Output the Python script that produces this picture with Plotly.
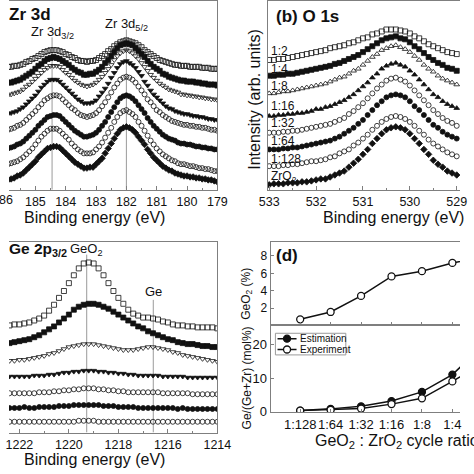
import numpy as np
import plotly.graph_objects as go

W = H = 474
FONT = "Liberation Sans, Arial, sans-serif"
INK = "#111111"
FRAME = "#7f7f7f"
GUIDE = "#9a9a9a"

ratio_labels = ["1:2", "1:4", "1:8", "1:16", "1:32", "1:64", "1:128", "ZrO<sub>2</sub>"]

# (a) Zr 3d -- intensity (arb. units), binding energy 186.0 -> 179.0 eV, 0.1 eV step
be_zr = np.round(np.arange(186.0, 178.95, -0.1), 1)
zr_1_2 = [125,125,125,126,126,127,128,130,131,133,134,136,138,140,141,142,142,142,141,140,138,137,135,134,132,131,131,130,131,131,132,134,136,138,141,143,146,148,150,151,152,151,150,149,147,145,142,140,138,136,134,132,131,130,129,128,127,127,126,126,126,125,125,125,125,124,124,124,123,123,123]
zr_1_4 = [108,109,109,110,111,112,114,116,118,120,123,126,128,131,133,134,135,134,133,131,129,127,124,122,120,119,117,117,118,118,120,122,125,129,132,136,140,144,147,148,149,148,147,144,141,138,135,131,128,125,123,121,118,117,115,114,113,112,111,111,110,110,110,109,109,108,108,107,107,107,106]
zr_1_8 = [96,96,97,98,99,100,102,105,107,110,113,116,119,122,124,126,126,126,125,122,119,117,114,111,109,107,106,105,106,107,109,112,115,119,123,127,132,136,139,141,142,141,139,136,133,129,125,121,117,114,111,108,106,104,102,101,100,99,97,97,96,96,95,95,94,94,93,93,92,92,91]
zr_1_16 = [76,77,78,79,80,82,84,87,90,93,96,100,104,107,110,112,112,112,110,107,104,101,98,95,92,90,88,88,88,89,91,95,99,103,108,114,119,124,128,130,131,129,127,124,120,116,110,106,101,97,94,91,88,85,83,82,80,79,78,77,77,76,75,75,74,74,73,72,72,71,71]
zr_1_32 = [61,61,62,63,65,66,68,71,74,77,80,84,87,91,93,95,96,96,95,92,89,86,83,81,78,76,75,74,75,76,78,81,85,89,94,99,104,108,112,114,115,114,112,109,105,101,97,92,89,85,81,79,76,74,72,70,69,68,67,66,66,65,65,64,64,63,63,62,61,61,60]
zr_1_64 = [42,42,43,44,46,47,49,52,55,58,61,65,68,71,74,75,76,76,75,72,69,66,63,60,58,56,54,54,55,56,58,61,65,69,74,79,84,89,93,95,96,95,93,90,86,82,78,73,69,65,62,59,56,54,52,51,50,48,47,47,46,46,45,44,44,43,43,42,42,41,41]
zr_1_128 = [25,26,27,28,29,31,33,36,39,42,46,50,54,57,60,62,62,62,60,57,54,51,47,44,41,39,37,37,37,38,41,44,48,53,58,63,69,74,78,80,81,79,77,74,69,65,60,55,50,46,42,39,36,34,32,30,29,27,26,26,25,24,24,23,22,22,21,21,20,19,19]
zr_zro2 = [10,10,11,12,14,15,17,20,23,26,29,33,36,39,42,43,44,44,43,40,37,34,31,28,26,24,22,22,23,23,26,29,32,37,42,47,52,57,61,63,64,63,61,58,54,50,46,41,37,33,30,27,24,22,20,19,17,16,15,14,14,13,13,12,12,11,11,10,10,9,8]

# (b) O 1s -- 533.0 -> 529.0 eV, 0.1 eV step
be_o = np.round(np.arange(533.0, 528.95, -0.1), 1)
o_1_2 = [132,132,133,133,134,135,136,137,138,139,140,141,142,144,145,146,147,149,150,152,154,155,158,159,161,163,163,163,162,161,159,156,154,151,148,146,144,142,140,139,138]
o_1_4 = [116,116,117,117,118,118,119,120,121,122,123,124,125,126,128,129,131,133,135,137,140,143,146,149,152,154,155,156,154,153,150,146,143,139,135,132,129,127,124,123,121]
o_1_8 = [98,98,99,100,100,101,102,103,104,105,106,107,108,110,112,114,115,118,121,123,127,131,135,138,142,144,146,147,145,143,140,136,132,127,123,120,116,113,111,109,107]
o_1_16 = [75,75,76,76,77,77,78,78,79,80,82,82,84,85,87,89,91,94,97,101,105,109,114,118,123,126,128,129,127,125,121,117,112,107,102,97,94,90,87,85,83]
o_1_32 = [58,58,58,59,59,60,60,61,62,63,64,65,66,67,69,71,73,77,80,84,88,93,98,103,107,111,113,114,112,110,106,101,96,91,86,81,77,73,70,68,65]
o_1_64 = [41,41,41,42,42,43,43,44,45,46,47,48,49,50,52,54,57,60,63,67,71,76,81,86,90,94,96,97,96,94,90,85,81,76,71,66,63,59,56,54,52]
o_1_128 = [24,24,24,25,25,26,26,27,28,29,29,30,31,33,34,37,39,41,45,48,52,56,61,65,69,72,74,75,74,72,69,65,60,56,51,47,44,41,38,36,34]
o_zro2 = [5,6,6,6,7,7,7,8,8,9,10,11,11,13,15,17,19,23,27,31,36,41,47,52,57,61,63,64,63,61,57,52,47,41,36,30,26,23,19,17,15]

# (c) Ge 2p3/2 -- 1222.4 -> 1214.0 eV, 0.2 eV step
be_ge = np.round(np.arange(1222.4, 1213.95, -0.2), 1)
ge_1_2 = [109,110,110,111,112,114,116,119,124,130,137,144,152,160,167,172,173,172,167,160,152,144,137,131,125,121,119,117,117,116,115,113,112,110,109,109,108,108,107,107,107,107,106]
ge_1_4 = [91,92,93,94,95,97,99,102,105,108,112,116,120,125,128,130,131,131,130,128,126,123,120,117,114,111,108,106,103,101,99,97,95,94,92,91,90,90,89,88,88,87,87]
ge_1_8 = [73,73,74,74,75,76,77,78,80,81,83,85,87,88,89,90,90,90,89,88,87,86,85,84,84,84,85,86,87,87,86,85,84,82,81,79,78,77,76,75,74,73,72]
ge_1_16 = [57,57,57,57,57,58,58,58,59,59,60,61,61,62,62,63,63,63,62,62,61,61,60,60,59,59,58,58,58,58,58,57,57,57,57,57,56,56,56,56,56,56,56]
ge_1_32 = [40,40,40,40,40,40,41,41,41,42,42,43,43,44,44,45,45,45,44,44,43,43,42,42,41,41,41,41,41,41,41,40,40,40,40,40,40,39,39,39,39,39,39]
ge_1_64 = [25,25,25,26,25,25,26,26,26,26,27,27,27,28,28,28,28,28,28,27,27,27,26,26,26,26,25,25,25,25,25,25,25,25,24,25,24,24,24,24,24,24,24]
ge_1_128 = [11,11,11,11,11,11,11,11,11,11,11,11,11,11,12,12,12,12,11,11,11,11,11,11,11,11,11,11,11,11,11,11,11,11,11,11,11,11,11,11,11,11,11]

# (d) composition vs cycle ratio
cycle_ratio = ["1:128", "1:64", "1:32", "1:16", "1:8", "1:4", "1:2"]
geo2_pct = [0.7, 1.55, 3.4, 5.65, 6.25, 7.2, 7.9]
ge_estimation = [0.4, 0.9, 1.65, 3.2, 5.9, 11.0, 19.5]
ge_experiment = [0.4, 0.6, 1.0, 2.3, 4.0, 9.0, 14.4]


def fx(px):
    return px / W


def fy(py):
    return 1 - py / H


fig = go.Figure()

# spectra panels
sym_a = ["square-open", "square", "triangle-down-open", "triangle-down",
         "circle-open", "circle", "circle-open", "diamond"]
sym_b = ["square-open", "square", "triangle-up-open", "triangle-up",
         "circle-open", "circle", "circle-open", "diamond"]

panels = [
    ("x", "y", be_zr, [zr_1_2, zr_1_4, zr_1_8, zr_1_16, zr_1_32, zr_1_64, zr_1_128, zr_zro2], sym_a),
    ("x2", "y2", be_o, [o_1_2, o_1_4, o_1_8, o_1_16, o_1_32, o_1_64, o_1_128, o_zro2], sym_b),
    ("x3", "y3", be_ge, [ge_1_2, ge_1_4, ge_1_8, ge_1_16, ge_1_32, ge_1_64, ge_1_128], sym_a),
]
for xa, ya, be, curves, syms in panels:
    for name, ys, sym in zip(ratio_labels, curves, syms):
        fig.add_trace(go.Scatter(
            x=be, y=ys, mode="markers", name=name, showlegend=False,
            marker=dict(symbol=sym, size=5, color=INK, line=dict(color=INK, width=0.8)),
            xaxis=xa, yaxis=ya))

# (d) upper: GeO2 fraction
fig.add_trace(go.Scatter(
    x=cycle_ratio, y=geo2_pct, mode="lines+markers", showlegend=False,
    line=dict(color=INK, width=1.5),
    marker=dict(symbol="circle", size=7, color="white", line=dict(color=INK, width=1.3)),
    xaxis="x4", yaxis="y4"))
# (d) lower: Ge/(Ge+Zr)
fig.add_trace(go.Scatter(
    x=cycle_ratio, y=ge_estimation, mode="lines+markers", name="Estimation", showlegend=False,
    line=dict(color=INK, width=1.5),
    marker=dict(symbol="circle", size=7, color=INK, line=dict(color=INK, width=1.3)),
    xaxis="x5", yaxis="y5"))
fig.add_trace(go.Scatter(
    x=cycle_ratio, y=ge_experiment, mode="lines+markers", name="Experiment", showlegend=False,
    line=dict(color=INK, width=1.5),
    marker=dict(symbol="circle", size=7, color="white", line=dict(color=INK, width=1.3)),
    xaxis="x5", yaxis="y5"))

# hand-made legend keys for (d)
for ky, fill in [(0.75, INK), (0.25, "white")]:
    fig.add_trace(go.Scatter(
        x=[0.03, 0.30], y=[ky, ky], mode="lines", showlegend=False,
        line=dict(color=INK, width=1.5), xaxis="x6", yaxis="y6"))
    fig.add_trace(go.Scatter(
        x=[0.165], y=[ky], mode="markers", showlegend=False,
        marker=dict(symbol="circle", size=7, color=fill, line=dict(color=INK, width=1.3)),
        xaxis="x6", yaxis="y6"))

tick_font = dict(family=FONT, size=12.5, color=INK)
base = dict(showgrid=False, zeroline=False, showline=True, linecolor=FRAME, linewidth=1,
            tickfont=tick_font, tickcolor=FRAME)
be_axis = dict(base, ticks="inside", ticklen=4, mirror=True)
hidden_y = dict(base, ticks="", showticklabels=False)

fig.update_layout(
    width=W, height=H, autosize=False,
    margin=dict(l=0, r=0, t=0, b=0),
    paper_bgcolor="white", plot_bgcolor="white",
    font=dict(family=FONT, color=INK),
    showlegend=False, hovermode=False,
    xaxis=dict(be_axis, domain=[0, fx(219)], range=[185.87, 179], dtick=1, tick0=179,
               minor=dict(ticks="inside", ticklen=2, tickcolor=FRAME, dtick=0.5), anchor="y"),
    yaxis=dict(hidden_y, domain=[fy(193), fy(1)], range=[0, 192], side="right", anchor="x"),
    xaxis2=dict(be_axis, domain=[fx(272), 1], range=[533.03, 528.93], dtick=1, tick0=529,
                minor=dict(ticks="inside", ticklen=2, tickcolor=FRAME, dtick=0.5), anchor="y2"),
    yaxis2=dict(hidden_y, domain=[fy(193), fy(1)], range=[0, 192], side="left", anchor="x2"),
    xaxis3=dict(be_axis, domain=[0, fx(219)], range=[1222.42, 1214], dtick=2, tick0=1214,
                minor=dict(ticks="inside", ticklen=2, tickcolor=FRAME, dtick=1), anchor="y3"),
    yaxis3=dict(hidden_y, domain=[fy(440), fy(246)], range=[0, 194], side="right", anchor="x3"),
    xaxis4=dict(base, type="category", domain=[fx(275), 1], range=[-0.97, 5.25],
                ticks="inside", ticklen=3, showticklabels=False, mirror=True, anchor="y4"),
    yaxis4=dict(base, domain=[fy(331), fy(246)], range=[0, 9.63], tickvals=[2, 4, 6, 8],
                ticks="inside", ticklen=3, tickfont=dict(family=FONT, size=12, color=INK),
                anchor="x4"),
    xaxis5=dict(base, type="category", domain=[fx(275), 1], range=[-0.97, 5.25],
                ticks="inside", ticklen=3, mirror=True, tickangle=0,
                tickfont=dict(family=FONT, size=13, color=INK), anchor="y5"),
    yaxis5=dict(base, domain=[fy(419), fy(331)], range=[0, 25.5], tickvals=[0, 10, 20],
                ticks="inside", ticklen=3, tickfont=dict(family=FONT, size=13, color=INK),
                anchor="x5"),
    xaxis6=dict(domain=[fx(280), fx(354)], range=[0, 1], visible=False, anchor="y6"),
    yaxis6=dict(domain=[fy(361), fy(339)], range=[0, 1], visible=False, anchor="x6"),
)

# guide lines
guides = [("x", "y", 184.45, 155), ("x", "y", 182.0, 163),
          ("x3", "y3", 1219.28, 181), ("x3", "y3", 1216.59, 135)]
for xr, yr, xv, ytop in guides:
    fig.add_shape(type="line", xref=xr, yref=yr, x0=xv, x1=xv, y0=0, y1=ytop,
                  line=dict(color=GUIDE, width=1), layer="below")
# legend box
fig.add_shape(type="rect", xref="paper", yref="paper",
              x0=fx(280), x1=fx(354), y0=fy(361), y1=fy(339),
              line=dict(color=GUIDE, width=1), fillcolor="rgba(0,0,0,0)")


def note(text, x, y, size, xanchor="center", bold=False, angle=0, xref="paper", yref="paper"):
    if bold:
        text = "<b>" + text + "</b>"
    fig.add_annotation(text=text, x=x, y=y, xref=xref, yref=yref, showarrow=False,
                       xanchor=xanchor, yanchor="middle", textangle=angle, borderpad=0,
                       font=dict(family=FONT, size=size, color=INK))


# panel (a)
note("Zr 3d", fx(-1), fy(15), 17, "left", bold=True)
note("Zr 3d<sub>3/2</sub>", 184.45, 160, 13, xref="x", yref="y")
note("Zr 3d<sub>5/2</sub>", 182.0, 168, 13, xref="x", yref="y")
note("186", fx(5), fy(203), 12.5, "right")
note("Binding energy (eV)", fx(90), fy(221), 16)

# panel (b)
note("(b) O 1s", fx(280), fy(17), 17, "left", bold=True)
note("Intensity (arb. units)", fx(258), fy(101), 16, angle=-90)
for lab, ly in zip(ratio_labels, [52, 70, 87, 108, 125, 143, 162, 180]):
    note(lab, fx(274), fy(ly), 12, "left")
note("Binding energy (eV)", fx(329), fy(221), 16, "left")

# panel (c)
note("Ge 2p<sub>3/2</sub>", fx(-1), fy(254), 15.5, "left", bold=True)
note("GeO<sub>2</sub>", 1219.28, 186, 13, xref="x3", yref="y3")
note("Ge", 1216.59, 143, 13, xref="x3", yref="y3")
note("Binding energy (eV)", fx(90), fy(467), 16)

# panel (d)
note("(d)", fx(280), fy(260), 17, "left", bold=True)
note("GeO<sub>2</sub> (%)", fx(250), fy(299), 12, angle=-90)
note("Ge/(Ge+Zr) (mol%)", fx(250), fy(384), 12, angle=-90)
note("Estimation", fx(305), fy(344.5), 10, "left")
note("Experiment", fx(305), fy(355.5), 10, "left")
note("GeO<sub>2</sub> : ZrO<sub>2</sub> cycle ratio", fx(321), fy(449), 16, "left")

# pin the plot to the window's top-left corner (the page's default body margin would shift it)
pin = ("document.body.style.margin='0px';document.body.style.overflow='hidden';"
       "var g=document.getElementById('{plot_id}');"
       "g.style.position='fixed';g.style.left='0px';g.style.top='0px';")
fig.write_html("out.html", post_script=pin,
               config={"displayModeBar": False, "responsive": False, "staticPlot": True})
